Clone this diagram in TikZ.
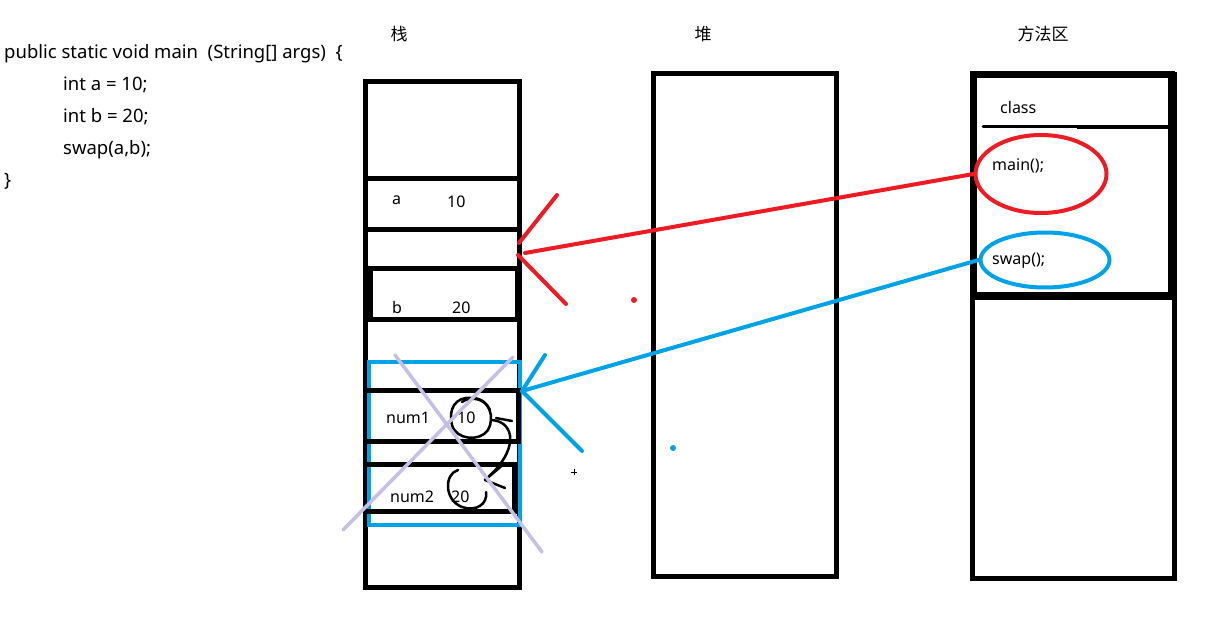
\documentclass[tikz,border=0pt]{standalone}
\usepackage{fontspec}
\setmainfont{Noto Sans}
\newfontfamily\cjk{Noto Sans CJK SC}
\definecolor{penred}{RGB}{237,28,36}
\definecolor{penblue}{RGB}{0,162,232}
\definecolor{penpurple}{RGB}{200,191,231}
\tikzset{
  frame/.style={draw=black,line width=5pt},
  txt/.style={anchor=base west,inner sep=0pt,font=\fontsize{16}{18}\selectfont},
  code/.style={anchor=base west,inner sep=0pt,font=\fontsize{18.5}{21}\selectfont},
  head/.style={anchor=center,inner sep=0pt,font=\cjk\fontsize{17}{19}\selectfont},
  redpen/.style={draw=penred,line width=4pt,line cap=round},
  bluepen/.style={draw=penblue,line width=4pt,line cap=round},
  purplepen/.style={draw=penpurple,line width=3.5pt,line cap=round},
  pencil/.style={draw=black,line width=2.5pt,line cap=round,line join=round},
  oval/.style={ellipse,line width=4pt,fill=none,inner sep=0pt},
}
\usetikzlibrary{shapes.geometric}
\begin{document}
\begin{tikzpicture}[x=1pt,y=-1pt]
\useasboundingbox (0,0) rectangle (1223,628);
\fill[white] (0,0) rectangle (1223,628);

% code
\node[code] (c1) at (4,59) {public static void main\ \ (String[] args)\ \ \{};
\node[code] (c2) at (63,91) {int a = 10;};
\node[code] (c3) at (63,123) {int b = 20;};
\node[code] (c4) at (63,155) {swap(a,b);};
\node[code] (c5) at (4,187) {\}};

% headings
\node[head] (hstack) at (399,34) {栈};
\node[head] (hheap) at (703,34) {堆};
\node[head] (hmeth) at (1043,34) {方法区};

% stack
\draw[frame] (365.5,81.5) rectangle (519.5,587);
\draw[frame] (365.5,179) -- (519.5,179);
\draw[frame] (365.5,230) -- (519.5,230);
\draw[frame] (370,269) rectangle (517,319);
\draw[line width=3pt] (368,271) -- (368,317);
\node[txt] (va) at (392,205) {a};
\node[txt] (vav) at (447,208) {10};
\node[txt] (vb) at (392,313) {b};
\node[txt] (vbv) at (452,313) {20};

% swap frame (blue)
\draw[draw=penblue,line width=4pt] (369,362) rectangle (519.5,525);
\draw[frame] (365.5,390) -- (518,390) -- (518,441) -- (365.5,441);
\draw[frame] (365.5,464) -- (514,464) -- (514,511) -- (365.5,511);
\node[txt] (n1) at (386,423) {num1};
\node[txt] (n1v) at (457,423) {10};
\node[txt] (n2) at (390,502) {num2};
\node[txt] (n2v) at (451,502) {20};

% pencil scribbles
\draw[pencil] (472,398) .. controls (455,396) and (448,410) .. (452,425)
  .. controls (456,440) and (480,442) .. (488,430)
  .. controls (495,418) and (490,398) .. (472,398);
\draw[pencil] (462,402) .. controls (470,396) and (485,398) .. (490,410);
\draw[pencil] (492,420) .. controls (515,422) and (520,450) .. (485,480);
\draw[pencil] (496,418) -- (512,421);
\draw[pencil] (485,480) -- (505,463);
\draw[pencil] (485,480) -- (505,488);
\draw[pencil] (458,470) .. controls (444,474) and (444,500) .. (462,507)
  .. controls (476,512) and (488,504) .. (486,492);

% purple cross
\draw[purplepen] (395,355) -- (542,552);
\draw[purplepen] (513,357) -- (343,530);

% heap
\draw[frame] (653.5,73.5) rectangle (836.5,576.5);

% method area
\draw[frame] (972,74.5) rectangle (1174,578);
\draw[line width=7pt] (973,75) rectangle (1171,296);
\draw[line width=3pt,line cap=round] (983,126.5) -- (1077,126.5);
\draw[line width=4pt] (1077,127) -- (1171,127);
\node[txt] (cls) at (1000,114) {class};
\node[oval,draw=penred,minimum width=131pt,minimum height=78pt] (mainE) at (1041,174) {};
\node[oval,draw=penblue,minimum width=129pt,minimum height=55pt] (swapE) at (1045,260) {};
\node[txt] (mt) at (992,171) {main();};
\node[txt] (st) at (992,265) {swap();};

% connectors
\coordinate (redtip) at (525,253);
\coordinate (bluetip) at (522,391);
\draw[redpen] (mainE.west) -- (redtip);
\draw[redpen] (redtip) ++(-6,-10) -- (557,195);
\draw[redpen] (518,255) -- (566,304);
\draw[bluepen] (swapE.west) -- (bluetip);
\draw[bluepen] (bluetip) -- (545,355);
\draw[bluepen] (bluetip) -- (582,451);

% stray dots
\fill[penred] (634,300) circle (3pt);
\fill[penblue] (673,448) circle (3pt);
\draw[line width=1pt] (571,472) -- (577,472) (574,469) -- (574,475);
\end{tikzpicture}
\end{document}
